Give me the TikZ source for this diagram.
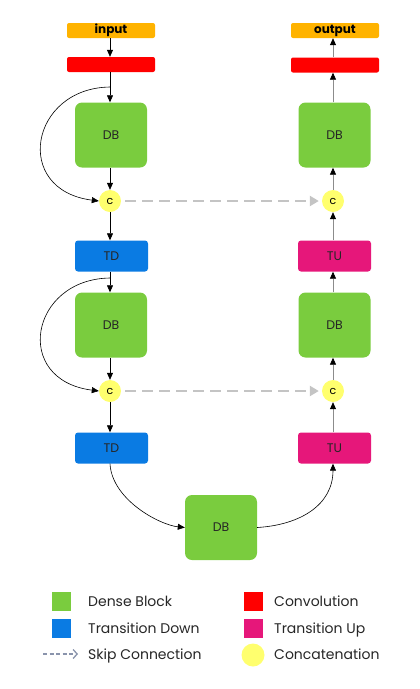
\documentclass[tikz,border=0pt]{standalone}
\usepackage{fontspec}
\setmainfont{Poppins}
\usetikzlibrary{arrows.meta}
\definecolor{dbgreen}{HTML}{7ACC3E}
\definecolor{tdblue}{HTML}{0A7BE3}
\definecolor{convred}{HTML}{FF0000}
\definecolor{tumag}{HTML}{E6177A}
\definecolor{catyel}{HTML}{FFFF6E}
\definecolor{ioorange}{HTML}{FFB300}
\definecolor{skipgray}{HTML}{C4C4C4}
\definecolor{legskip}{HTML}{8A94AC}
\tikzset{
  blk/.style={inner sep=0pt, font=\fontsize{12.5}{13}\selectfont, text=black!85},
  dbbox/.style={blk, fill=dbgreen, rounded corners=7pt, minimum width=72pt, minimum height=65pt},
  tdbox/.style={blk, fill=tdblue, rounded corners=3pt, minimum width=73pt, minimum height=31pt},
  tubox/.style={blk, fill=tumag, rounded corners=3pt, minimum width=73pt, minimum height=31pt},
  convbox/.style={fill=convred, rounded corners=2pt, minimum width=88pt, minimum height=15pt, inner sep=0pt},
  iobox/.style={fill=ioorange, rounded corners=2pt, minimum width=88pt, minimum height=15pt, inner sep=0pt, font=\bfseries\fontsize{12}{12}\selectfont},
  cat/.style={circle, fill=catyel, minimum size=22pt, inner sep=0pt, font=\fontsize{11}{11}\selectfont},
  arr/.style={-{Triangle[length=7pt,width=6pt]}, line width=0.6pt, black},
  arrg/.style={-{Triangle[length=7pt,width=6pt,color=black]}, line width=0.7pt, draw=gray!90},
  skip/.style={dashed, dash pattern=on 11pt off 6pt, line width=2.5pt, draw=skipgray, -{Triangle[length=9pt,width=10pt]}},
  leg/.style={fill=#1, minimum size=19pt, inner sep=0pt},
  legtext/.style={anchor=base west, font=\fontsize{14}{14}\selectfont, inner sep=0pt, text=black!85},
}
\begin{document}
\begin{tikzpicture}[x=1pt,y=-1pt]
\useasboundingbox (0,0) rectangle (420,689);
% left column
\node[iobox] (in) at (111,30.5) {input};
\node[convbox] (c1) at (111,64.5) {};
\node[dbbox] (db1) at (111,135) {DB};
\node[cat] (k1) at (110,201) {c};
\node[tdbox] (td1) at (111.5,256) {TD};
\node[dbbox] (db2) at (111,325) {DB};
\node[cat] (k2) at (110,391) {c};
\node[tdbox] (td2) at (111.5,448) {TD};
% bottom
\node[dbbox] (db3) at (221,527.5) {DB};
% right column
\node[tubox] (tu2) at (334.5,448) {TU};
\node[cat] (k4) at (333,391) {c};
\node[dbbox] (db4) at (334.5,325) {DB};
\node[tubox] (tu1) at (334.5,256) {TU};
\node[cat] (k3) at (333,201) {c};
\node[dbbox] (db5) at (334.5,135) {DB};
\node[convbox] (c2) at (335,65) {};
\node[iobox] (out) at (335,30.5) {output};
% left arrows
\draw[arr] (in.south -| 110,0) -- (c1.north -| 110,0);
\draw[arr] (c1.south -| 110,0) -- (db1.north -| 110,0);
\draw[arr] (db1.south -| 110,0) -- (k1.north);
\draw[arr] (k1.south) -- (td1.north -| 110,0);
\draw[arr] (td1.south -| 110,0) -- (db2.north -| 110,0);
\draw[arr] (db2.south -| 110,0) -- (k2.north);
\draw[arr] (k2.south) -- (td2.north -| 110,0);
\coordinate (s1) at (110,87);
\coordinate (s2) at (110,278);
\draw[arr] (s1) .. controls (30,88) and (12,190) .. (k1.west);
\draw[arr] (s2) .. controls (30,279) and (12,380) .. (k2.west);
% bottom arrows
\draw[arr] (td2.south -| 110,0) .. controls (112,500) and (160,525) .. (db3.west);
\draw[arr] (db3.east) .. controls (300,525) and (333,505) .. (tu2.south -| 333,0);
% right arrows
\draw[arrg] (tu2.north -| 333,0) -- (k4.south);
\draw[arrg] (k4.north) -- (db4.south -| 333,0);
\draw[arrg] (db4.north -| 333,0) -- (tu1.south -| 333,0);
\draw[arrg] (tu1.north -| 333,0) -- (k3.south);
\draw[arrg] (k3.north) -- (db5.south -| 333,0);
\draw[arrg] (db5.north -| 333,0) -- (c2.south -| 333,0);
\draw[arrg] (c2.north -| 333,0) -- (out.south -| 333,0);
% skips
\draw[skip] ([xshift=4pt]k1.east) -- ([xshift=-3pt]k3.west);
\draw[skip] ([xshift=4pt]k2.east) -- ([xshift=-3pt]k4.west);
% legend
\node[leg=dbgreen] (l1) at (61,601.5) {};
\node[legtext] (t1) at (88,606) {Dense Block};
\node[leg=tdblue] (l2) at (61,628) {};
\node[legtext] (t2) at (88,633) {Transition Down};
\coordinate (l3a) at (43,654);
\coordinate (l3b) at (78,654);
\draw[dashed, dash pattern=on 4pt off 2.5pt, line width=1.3pt, draw=legskip, -{Straight Barb[length=4pt,width=9pt]}] (l3a) -- (l3b);
\node[legtext] (t3) at (88,659) {Skip Connection};
\node[leg=convred] (l4) at (253,601.5) {};
\node[legtext] (t4) at (274,606) {Convolution};
\node[leg=tumag] (l5) at (253,628) {};
\node[legtext] (t5) at (274,633) {Transition Up};
\node[circle, fill=catyel, minimum size=23pt, inner sep=0pt] (l6) at (253,655) {};
\node[legtext] (t6) at (274,659) {Concatenation};
\end{tikzpicture}
\end{document}
